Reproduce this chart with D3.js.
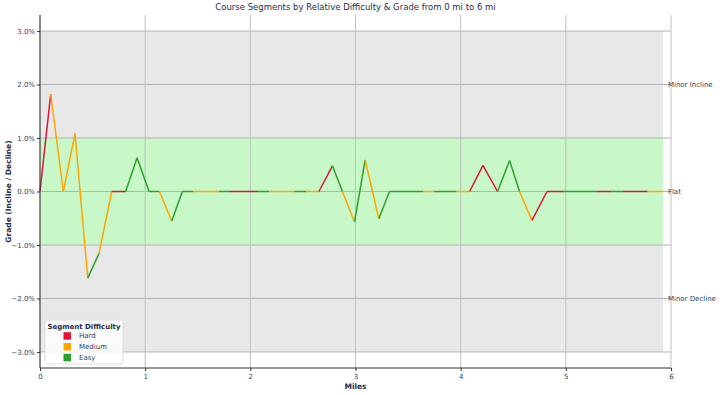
<!DOCTYPE html>
<html>
<head>
<meta charset="utf-8">
<script src="https://cdn.jsdelivr.net/npm/d3@7"></script>
<style>
  body { margin: 0; background: #fff; }
  svg { font-family: "DejaVu Sans", sans-serif; }
  .tick text { fill: #2a3f5f; }
</style>
</head>
<body>
<svg id="chart" width="720" height="395"></svg>
<script>
// course vertices (miles, grade %)
let miles = [0, 0.102, 0.222, 0.333, 0.454, 0.561, 0.682, 0.815, 0.923, 1.037, 1.135,
  1.253, 1.354, 1.458, 1.703, 1.798, 2.077, 2.179, 2.420, 2.531, 2.652, 2.781, 2.876,
  2.991, 3.092, 3.222, 3.323, 3.641, 3.749, 3.958, 4.085, 4.212, 4.351, 4.465, 4.560,
  4.678, 4.821, 4.973, 5.290, 5.433, 5.540, 5.778, 5.923];
let grades = [0, 1.82, 0, 1.09, -1.62, -1.16, 0, 0, 0.63, 0, 0,
  -0.55, 0, 0, 0, 0, 0, 0, 0, 0, 0, 0.48, 0,
  -0.57, 0.59, -0.51, 0, 0, 0, 0, 0, 0.49, 0, 0.58, 0,
  -0.54, 0, 0, 0, 0, 0, 0, 0];
// difficulty of the segment that ends at each vertex (first one has none)
let difficulty = [null, 'Hard', 'Medium', 'Medium', 'Medium', 'Easy', 'Medium', 'Hard', 'Easy', 'Easy', 'Easy',
  'Medium', 'Easy', 'Easy', 'Medium', 'Easy', 'Hard', 'Easy', 'Medium', 'Easy', 'Medium', 'Hard', 'Easy',
  'Medium', 'Easy', 'Medium', 'Easy', 'Easy', 'Medium', 'Easy', 'Medium', 'Hard', 'Hard', 'Easy', 'Easy',
  'Medium', 'Hard', 'Hard', 'Easy', 'Hard', 'Easy', 'Hard', 'Medium'];

let levels = ['Hard', 'Medium', 'Easy'];
let levelColors = ['#dc143c', '#ffa500', '#2ca02c'];
let xTicks = [0, 1, 2, 3, 4, 5, 6];
let yTicks = [-3, -2, -1, 0, 1, 2, 3];
let zoneValues = [2, 0, -2];
let zoneLabels = ['Minor Incline', 'Flat', 'Minor Decline'];

let margin = {top: 15, right: 49, bottom: 27, left: 40},
    width = 720 - margin.left - margin.right,
    height = 395 - margin.top - margin.bottom;

let svg = d3.select('#chart');
let g = svg.append('g')
  .attr('transform', 'translate(' + margin.left + ',' + margin.top + ')');

let x = d3.scaleLinear().domain([0, 6]).range([0, width]);
let y = d3.scaleLinear().domain([-3.3, 3.3]).range([height, 0]);
let color = d3.scaleOrdinal().domain(levels).range(levelColors);

let lastMile = d3.max(miles);

// background bands
g.append('rect')
  .attr('x', x(0)).attr('width', x(lastMile) - x(0))
  .attr('y', y(3)).attr('height', y(-3) - y(3))
  .attr('fill', '#e8e8e8');
g.append('rect')
  .attr('x', x(0)).attr('width', x(lastMile) - x(0))
  .attr('y', y(1)).attr('height', y(-1) - y(1))
  .attr('fill', '#c8f7c8');

// grid
g.append('g').selectAll('line').data(yTicks).join('line')
  .attr('x1', 0).attr('x2', width)
  .attr('y1', d => y(d)).attr('y2', d => y(d))
  .attr('stroke', '#b3b3b3').attr('stroke-width', 1);
g.append('g').selectAll('line').data(xTicks).join('line')
  .attr('x1', d => x(d)).attr('x2', d => x(d))
  .attr('y1', 0).attr('y2', height)
  .attr('stroke', '#c0c0c0').attr('stroke-width', 1);

// course line, one piece per segment so each gets its own colour
let line = d3.line().x(d => x(d[0])).y(d => y(d[1]));
let segs = [];
for (let i = 1; i < miles.length; i++) {
  segs.push({pts: [[miles[i - 1], grades[i - 1]], [miles[i], grades[i]]], level: difficulty[i]});
}
g.append('g').selectAll('path').data(segs).join('path')
  .attr('d', d => line(d.pts))
  .attr('fill', 'none')
  .attr('stroke', d => color(d.level))
  .attr('stroke-width', 1.5)
  .attr('stroke-linecap', 'butt');

// zone labels on the right
g.append('g').selectAll('text').data(zoneValues).join('text')
  .attr('x', x(lastMile) + 5)
  .attr('y', d => y(d))
  .attr('dy', '0.35em')
  .attr('font-size', 7)
  .attr('fill', '#2a3f5f')
  .text((d, i) => zoneLabels[i]);

// axes
let xAxis = d3.axisBottom(x).tickValues(xTicks).tickSize(3).tickPadding(3).tickFormat(d3.format('d'));
let yAxis = d3.axisLeft(y).tickValues(yTicks).tickSize(3).tickPadding(2).tickFormat(d => d3.format('.1f')(d) + '%');

let gx = g.append('g').attr('transform', 'translate(0,' + height + ')').call(xAxis);
let gy = g.append('g').call(yAxis);
[gx, gy].forEach(a => {
  a.select('.domain').attr('stroke', '#333').attr('stroke-width', 1);
  a.selectAll('.tick line').attr('stroke', '#333');
  a.selectAll('.tick text').attr('font-size', 7).attr('font-family', '"DejaVu Sans", sans-serif');
});
gy.select('.domain').attr('d', 'M0,0V' + height);
gx.select('.domain').attr('d', 'M0,0H' + width);

// titles
svg.append('text')
  .attr('x', margin.left + width / 2).attr('y', 10)
  .attr('text-anchor', 'middle')
  .attr('font-size', 8.5)
  .attr('fill', '#1f2d4d')
  .text('Course Segments by Relative Difficulty & Grade from 0 mi to 6 mi');
svg.append('text')
  .attr('x', margin.left + width / 2).attr('y', 389)
  .attr('text-anchor', 'middle')
  .attr('font-size', 7.5).attr('font-weight', 'bold')
  .attr('fill', '#1f2d4d')
  .text('Miles');
svg.append('text')
  .attr('transform', 'translate(11,' + (margin.top + y(0)) + ') rotate(-90)')
  .attr('text-anchor', 'middle')
  .attr('font-size', 7.5).attr('font-weight', 'bold')
  .attr('fill', '#1f2d4d')
  .text('Grade (Incline / Decline)');

// legend
let lg = svg.append('g').attr('transform', 'translate(45,320)');
lg.append('rect')
  .attr('width', 78).attr('height', 44).attr('rx', 2)
  .attr('fill', 'rgba(255,255,255,0.8)')
  .attr('stroke', '#d8d8d8').attr('stroke-width', 0.8);
lg.append('text')
  .attr('x', 39).attr('y', 8.5)
  .attr('text-anchor', 'middle')
  .attr('font-size', 7).attr('font-weight', 'bold')
  .attr('fill', '#1f2d4d')
  .text('Segment Difficulty');
let items = lg.selectAll('g.item').data(levels).join('g')
  .attr('class', 'item')
  .attr('transform', (d, i) => 'translate(0,' + (16 + i * 10.8) + ')');
items.append('rect')
  .attr('x', 18.5).attr('y', -3.8).attr('width', 7.5).attr('height', 7.5)
  .attr('fill', d => color(d));
items.append('text')
  .attr('x', 34).attr('y', 0).attr('dy', '0.35em')
  .attr('font-size', 7).attr('fill', '#2a3f5f')
  .text(d => d);
</script>
</body>
</html>
